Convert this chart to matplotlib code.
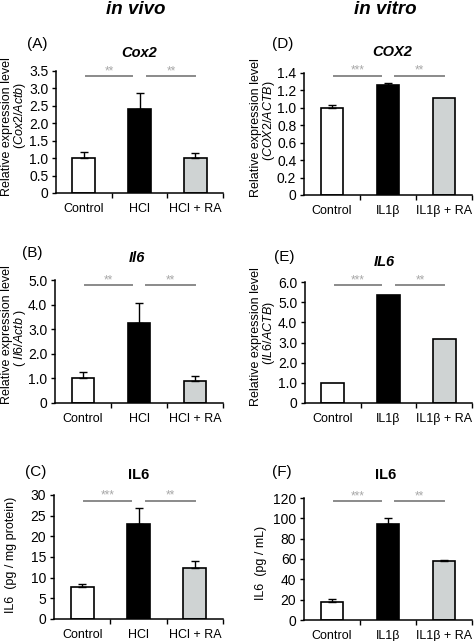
import matplotlib
matplotlib.use("Agg")
import matplotlib.pyplot as plt
import numpy as np

plt.rcParams['font.family'] = ['Liberation Sans', 'DejaVu Sans']
plt.rcParams['mathtext.fontset'] = 'custom'
plt.rcParams['mathtext.rm'] = 'Liberation Sans'
plt.rcParams['mathtext.it'] = 'Liberation Sans:italic'
plt.rcParams['mathtext.bf'] = 'Liberation Sans:bold'

# ---------------- data ----------------
cats_vivo = ['Control', 'HCl', 'HCl + RA']
cats_vitro = ['Control', 'IL1β', 'IL1β + RA']

cox2_vivo = [1.0, 2.40, 1.0]
cox2_vivo_err = [0.19, 0.47, 0.16]
il6_vivo_mrna = [1.0, 3.27, 0.88]
il6_vivo_mrna_err = [0.27, 0.78, 0.20]
il6_vivo_prot = [7.8, 23.0, 12.3]
il6_vivo_prot_err = [0.6, 3.8, 1.7]

cox2_vitro = [1.0, 1.265, 1.11]
cox2_vitro_err = [0.035, 0.02, 0.0]
il6_vitro_mrna = [1.0, 5.38, 3.17]
il6_vitro_mrna_err = [0.0, 0.0, 0.0]
il6_vitro_prot = [18.0, 94.5, 58.5]
il6_vitro_prot_err = [2.3, 5.6, 0.9]

yt_A = ['0', '0.5', '1.0', '1.5', '2.0', '2.5', '3.0', '3.5']
yt_B = ['0', '1.0', '2.0', '3.0', '4.0', '5.0']
yt_C = ['0', '5', '10', '15', '20', '25', '30']
yt_D = ['0', '0.2', '0.4', '0.6', '0.8', '1.0', '1.2', '1.4']
yt_E = ['0', '1.0', '2.0', '3.0', '4.0', '5.0', '6.0']
yt_F = ['0', '20', '40', '60', '80', '100', '120']

sig_A = ['**', '**']
sig_B = ['**', '**']
sig_C = ['***', '**']
sig_D = ['***', '**']
sig_E = ['***', '**']
sig_F = ['***', '**']
sig_y = {'A': 3.36, 'B': 4.8, 'C': 28.6, 'D': 1.37, 'E': 5.84, 'F': 116.8}

bar_colors = ['white', 'black', '#cfd3d3']

W, H = 474, 641
fig = plt.figure(figsize=(W / 100, H / 100), dpi=100)


def fx(x):
    return x / W


def fy(y):
    return 1 - y / H


def make_axes(l, t, r, b):
    return fig.add_axes([fx(l), fy(b), (r - l) / W, (b - t) / H])


def panel(ax, cats, vals, errs, yticklabels, sigs, sy):
    x = np.arange(len(cats))
    ax.bar(x, vals, width=0.41, color=bar_colors, edgecolor='black',
           linewidth=1.2, zorder=2)
    if any(e > 0 for e in errs):
        xs = [xi for xi, e in zip(x, errs) if e > 0]
        vs = [v for v, e in zip(vals, errs) if e > 0]
        es = [e for e in errs if e > 0]
        ax.errorbar(xs, vs, yerr=[[0] * len(es), es], fmt='none',
                    ecolor='black', elinewidth=1.0, capsize=3, capthick=1.0,
                    zorder=3, clip_on=False)
    yt = [float(s) for s in yticklabels]
    ax.set_yticks(yt)
    ax.set_yticklabels(yticklabels, fontsize=10)
    ax.set_ylim(yt[0], yt[-1])
    ax.set_xlim(-0.5, len(cats) - 0.5)
    ax.set_xticks(x)
    ax.set_xticklabels(cats, fontsize=9)
    ax.set_xticks(np.arange(len(cats)) + 0.5, minor=True)
    ax.tick_params(axis='x', which='major', length=0, pad=7)
    ax.tick_params(axis='x', which='minor', length=3.5, width=1.0, direction='out')
    ax.tick_params(axis='y', length=3, width=1.0, pad=2.5)
    for s in ['top', 'right']:
        ax.spines[s].set_visible(False)
    for s in ['left', 'bottom']:
        ax.spines[s].set_linewidth(1.1)
    # significance lines
    segs = [(0.03, 0.87), (1.13, 2.0)]
    for (a, b), txt in zip(segs, sigs):
        ax.plot([a, b], [sy, sy], color='#8a8a8a', lw=1.4, clip_on=False, zorder=4)
        ax.annotate(txt, xy=((a + b) / 2, sy), xytext=(0, 3.5),
                    textcoords='offset points', ha='center', va='center',
                    fontsize=8.5, color='#a8a8a8', annotation_clip=False)


axA = make_axes(56, 71, 223, 193)
axB = make_axes(55, 280, 223, 403)
axC = make_axes(54, 495, 223, 619)
axD = make_axes(304, 73, 472, 195)
axE = make_axes(305, 282, 472, 403)
axF = make_axes(304, 498, 472, 620)

panel(axA, cats_vivo, cox2_vivo, cox2_vivo_err, yt_A, sig_A, sig_y['A'])
panel(axB, cats_vivo, il6_vivo_mrna, il6_vivo_mrna_err, yt_B, sig_B, sig_y['B'])
panel(axC, cats_vivo, il6_vivo_prot, il6_vivo_prot_err, yt_C, sig_C, sig_y['C'])
panel(axD, cats_vitro, cox2_vitro, cox2_vitro_err, yt_D, sig_D, sig_y['D'])
panel(axE, cats_vitro, il6_vitro_mrna, il6_vitro_mrna_err, yt_E, sig_E, sig_y['E'])
panel(axF, cats_vitro, il6_vitro_prot, il6_vitro_prot_err, yt_F, sig_F, sig_y['F'])

# headers
fig.text(fx(136), fy(9), 'in vivo', ha='center', va='center', fontsize=13.5,
         fontweight='bold', fontstyle='italic')
fig.text(fx(385), fy(9), 'in vitro', ha='center', va='center', fontsize=13.5,
         fontweight='bold', fontstyle='italic')

# panel letters
for lab, (x, y) in {'(A)': (37, 44), '(B)': (32, 253), '(C)': (36, 472),
                    '(D)': (283, 44), '(E)': (284, 257), '(F)': (282, 472)}.items():
    fig.text(fx(x), fy(y), lab, ha='center', va='center', fontsize=11)

# gene titles
for lab, (x, y), it in [('Cox2', (139, 53), True), ('Il6', (137, 258), True),
                        ('IL6', (139, 475), False), ('COX2', (392, 52), True),
                        ('IL6', (384, 262), True), ('IL6', (386, 475), False)]:
    fig.text(fx(x), fy(y), lab, ha='center', va='center', fontsize=10.5,
             fontweight='bold', fontstyle='italic' if it else 'normal')

# y labels
rel = 'Relative expression level'
ylabs = [
    (rel, 7, 127), (r'($\mathit{Cox2/Actb}$)', 20, 115),
    (rel, 7, 335), (r'( $\mathit{Il6/Actb}$ )', 20, 338),
    ('IL6  (pg / mg protein)', 11, 555),
    (rel, 256, 128), (r'($\mathit{COX2/ACTB}$)', 269, 121),
    (rel, 256, 337), (r'($\mathit{IL6/ACTB}$)', 269, 333),
    ('IL6  (pg / mL)', 261, 563),
]
for txt, x, y in ylabs:
    fig.text(fx(x), fy(y), txt, rotation=90, ha='center', va='center', fontsize=9)

fig.savefig('out.png', dpi=100)
